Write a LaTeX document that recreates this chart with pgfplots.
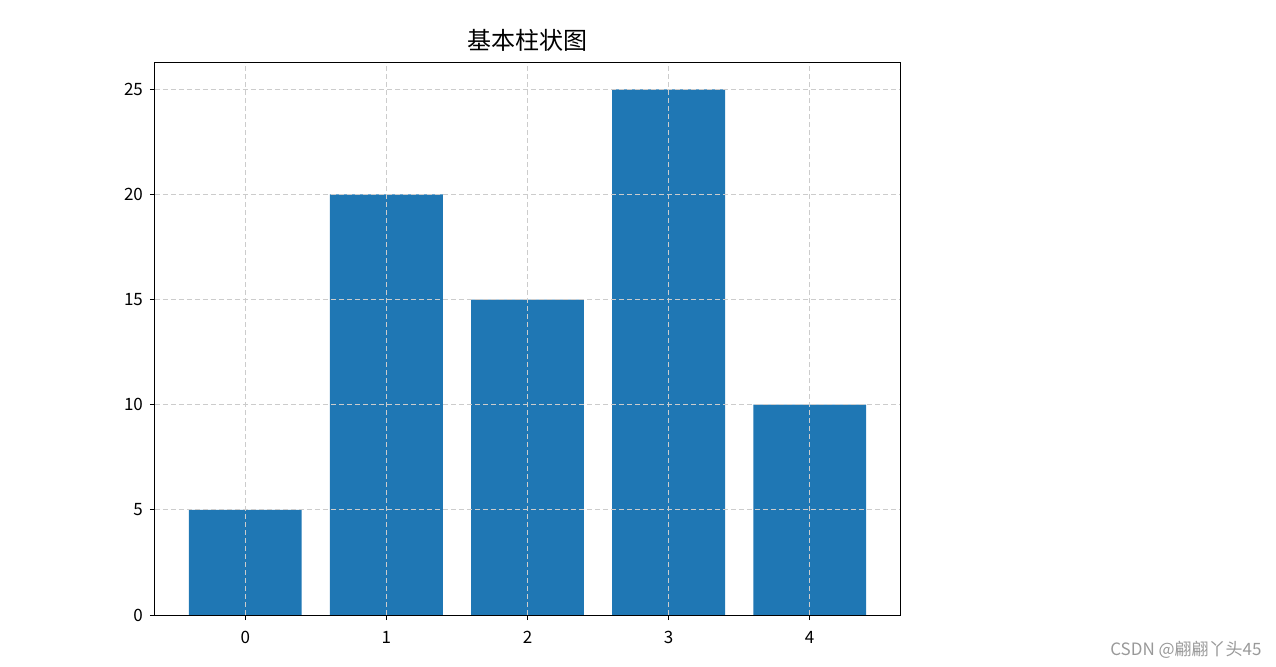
\documentclass[border=0pt]{standalone}
\usepackage{fontspec}
\setmainfont{Noto Sans CJK SC}
\usepackage{pgfplots}
\pgfplotsset{compat=1.18}
\definecolor{barblue}{HTML}{1F77B4}
\begin{document}
\begin{tikzpicture}
\path[use as bounding box] (-77.5pt,-25.5pt) rectangle (560.5pt,307.5pt);
\begin{axis}[
 scale only axis, width=372.5pt, height=276pt,
 xmin=-0.64, xmax=4.64, ymin=0, ymax=26.25,
 xtick={0,1,2,3,4}, ytick={0,5,10,15,20,25},
 tick align=outside, major tick length=2.5pt,
 xtick pos=bottom, ytick pos=left,
 grid=major, grid style={dash pattern=on 2.5pt off 1.5pt, color=gray!40, line width=0.4pt},
 axis on top,
 axis line style={line width=0.5pt},
 tick style={black, line width=0.5pt},
 tick label style={font=\fontsize{8.5}{10}\selectfont},
 xticklabel style={yshift=-2pt},
 /pgf/number format/assume math mode=true,
 title={基本柱状图},
 title style={at={(0.5,1)}, anchor=base, yshift=0.5pt, font=\fontsize{12}{14}\selectfont},
]
\addplot[ybar, bar width=0.8, fill=barblue, draw=none] coordinates {(0,5) (1,20) (2,15) (3,25) (4,10)};
\end{axis}
\node[anchor=base east, text=gray!80, font=\fontsize{8.5}{10}\selectfont, inner sep=0pt] at (553.5pt,-20pt) {CSDN @翩翩丫头45};
\end{tikzpicture}
\end{document}
